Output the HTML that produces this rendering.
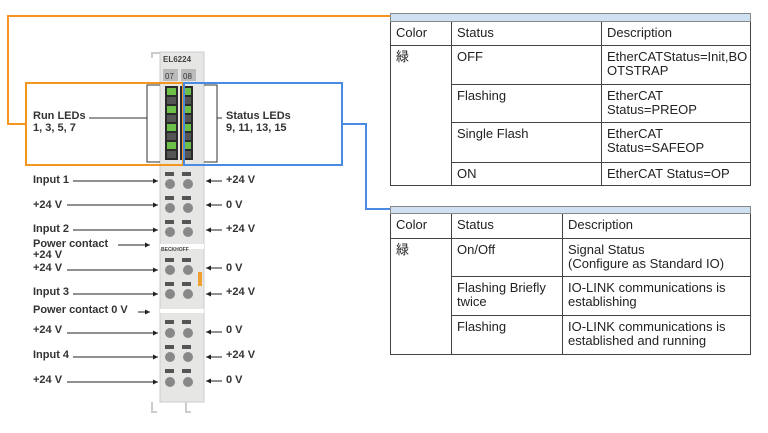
<!DOCTYPE html>
<html><head><meta charset="utf-8"><style>
body{margin:0;width:768px;height:433px;background:#fff;overflow:hidden;position:relative;font-family:"Liberation Sans","Noto Sans CJK JP",sans-serif}
table{position:absolute;border-collapse:collapse;font-size:13px;color:#222;table-layout:fixed}
td{border:1px solid #444;vertical-align:top;padding:4px 4px 2px 5px;line-height:14px;overflow:hidden;white-space:nowrap}
.band td{background:#cfe0f0;height:1px;padding:0;border-color:#888}
</style></head><body>
<svg width="768" height="433" style="position:absolute;left:0;top:0" font-family="Liberation Sans, sans-serif">
<defs><marker id="a" markerWidth="6" markerHeight="6" refX="5" refY="3" orient="auto"><path d="M0,0.5 L5,3 L0,5.5z" fill="#222"/></marker></defs>
<polyline points="390,16 8,16 8,124 26,124" fill="none" stroke="#f4951f" stroke-width="2"/>
<path d="M152,58 v-5 h50 v8" fill="none" stroke="#ccc" stroke-width="2"/>
<rect x="160" y="52" width="44" height="350" fill="#e6e6e4" stroke="#ccc"/>
<text x="163" y="62" font-size="8" font-weight="bold" fill="#444">EL6224</text>
<rect x="163" y="69" width="15" height="12" fill="#bbb"/><rect x="181" y="69" width="15" height="12" fill="#bbb"/>
<text x="165" y="79" font-size="8" fill="#333">07</text><text x="183" y="79" font-size="8" fill="#333">08</text>
<rect x="165" y="86" width="13" height="74" fill="#2a2a2a"/><rect x="180" y="86" width="13" height="74" fill="#2a2a2a"/>
<g fill="#6cc04a">
<rect x="167" y="88" width="9" height="7"/><rect x="167" y="106" width="9" height="7"/><rect x="167" y="124" width="9" height="7"/><rect x="167" y="142" width="9" height="7"/>
<rect x="182" y="88" width="9" height="7"/><rect x="182" y="106" width="9" height="7"/><rect x="182" y="124" width="9" height="7"/><rect x="182" y="142" width="9" height="7"/>
</g>
<g fill="#555">
<rect x="167" y="97" width="9" height="7"/><rect x="167" y="115" width="9" height="7"/><rect x="167" y="133" width="9" height="7"/><rect x="167" y="151" width="9" height="7"/>
<rect x="182" y="97" width="9" height="7"/><rect x="182" y="115" width="9" height="7"/><rect x="182" y="133" width="9" height="7"/><rect x="182" y="151" width="9" height="7"/>
</g>
<g fill="#555">
<rect x="165" y="172" width="9" height="4"/><rect x="182" y="172" width="9" height="4"/><circle cx="170" cy="184" r="5" fill="#888"/><circle cx="188" cy="184" r="5" fill="#888"/>
<rect x="165" y="196" width="9" height="4"/><rect x="182" y="196" width="9" height="4"/><circle cx="170" cy="208" r="5" fill="#888"/><circle cx="188" cy="208" r="5" fill="#888"/>
<rect x="165" y="220" width="9" height="4"/><rect x="182" y="220" width="9" height="4"/><circle cx="170" cy="232" r="5" fill="#888"/><circle cx="188" cy="232" r="5" fill="#888"/>
<rect x="165" y="258" width="9" height="4"/><rect x="182" y="258" width="9" height="4"/><circle cx="170" cy="270" r="5" fill="#888"/><circle cx="188" cy="270" r="5" fill="#888"/>
<rect x="165" y="282" width="9" height="4"/><rect x="182" y="282" width="9" height="4"/><circle cx="170" cy="294" r="5" fill="#888"/><circle cx="188" cy="294" r="5" fill="#888"/>
<rect x="165" y="320" width="9" height="4"/><rect x="182" y="320" width="9" height="4"/><circle cx="170" cy="333" r="5" fill="#888"/><circle cx="188" cy="333" r="5" fill="#888"/>
<rect x="165" y="345" width="9" height="4"/><rect x="182" y="345" width="9" height="4"/><circle cx="170" cy="357" r="5" fill="#888"/><circle cx="188" cy="357" r="5" fill="#888"/>
<rect x="165" y="369" width="9" height="4"/><rect x="182" y="369" width="9" height="4"/><circle cx="170" cy="382" r="5" fill="#888"/><circle cx="188" cy="382" r="5" fill="#888"/>
</g>
<rect x="160" y="244" width="44" height="5" fill="#fff"/><text x="161" y="251" font-size="5" font-weight="bold" fill="#444">BECKHOFF</text>
<rect x="160" y="309" width="44" height="4" fill="#fff"/>
<rect x="198" y="272" width="4" height="14" fill="#f0a030"/>
<path d="M152,402 v10 h5 M186,402 v10 h5" fill="none" stroke="#ccc" stroke-width="2"/>
<polyline points="160,85 147,85 147,162 160,162" fill="none" stroke="#333"/>
<polyline points="204,85 217,85 217,162 204,162" fill="none" stroke="#333"/>
<line x1="89" y1="118" x2="147" y2="118" stroke="#333"/><line x1="217" y1="118" x2="222" y2="118" stroke="#333"/>
<rect x="26" y="83" width="157" height="82" fill="none" stroke="#f4951f" stroke-width="2"/>
<rect x="184" y="83" width="158" height="82" fill="none" stroke="#4a8ae0" stroke-width="2"/>
<polyline points="342,124 366,124 366,209 390,209" fill="none" stroke="#4a8ae0" stroke-width="2"/>
<g font-size="11" font-weight="bold" fill="#333">
<text x="33" y="119">Run LEDs</text><text x="33" y="131">1, 3, 5, 7</text>
<text x="226" y="119">Status LEDs</text><text x="226" y="131">9, 11, 13, 15</text>
<text x="33" y="183">Input 1</text><text x="33" y="208">+24 V</text><text x="33" y="232">Input 2</text>
<text x="33" y="247">Power contact</text><text x="33" y="258">+24 V</text><text x="33" y="271">+24 V</text>
<text x="33" y="295">Input 3</text><text x="33" y="313">Power contact 0 V</text>
<text x="33" y="333">+24 V</text><text x="33" y="358">Input 4</text><text x="33" y="383">+24 V</text>
<text x="226" y="183">+24 V</text><text x="226" y="208">0 V</text><text x="226" y="232">+24 V</text>
<text x="226" y="271">0 V</text><text x="226" y="295">+24 V</text><text x="226" y="333">0 V</text>
<text x="226" y="358">+24 V</text><text x="226" y="383">0 V</text>
</g>
<g stroke="#222" marker-end="url(#a)">
<line x1="73" y1="181" x2="158" y2="181"/><line x1="67" y1="205" x2="158" y2="205"/><line x1="73" y1="230" x2="158" y2="230"/>
<line x1="118" y1="245" x2="150" y2="245"/><line x1="67" y1="270" x2="158" y2="270"/><line x1="73" y1="294" x2="158" y2="294"/>
<line x1="138" y1="312" x2="150" y2="312"/><line x1="67" y1="333" x2="158" y2="333"/><line x1="73" y1="357" x2="158" y2="357"/><line x1="67" y1="382" x2="158" y2="382"/>
<line x1="222" y1="181" x2="206" y2="181"/><line x1="222" y1="205" x2="206" y2="205"/><line x1="222" y1="230" x2="206" y2="230"/>
<line x1="222" y1="268" x2="206" y2="268"/><line x1="222" y1="294" x2="206" y2="294"/><line x1="222" y1="332" x2="206" y2="332"/>
<line x1="222" y1="357" x2="206" y2="357"/><line x1="222" y1="381" x2="206" y2="381"/>
</g>
</svg>
<table style="left:390px;top:13px;width:361px">
<colgroup><col style="width:61px"><col style="width:150px"><col></colgroup>
<tr class="band"><td colspan="3" style="height:7px"></td></tr>
<tr style="height:24px"><td>Color</td><td>Status</td><td>Description</td></tr>
<tr style="height:39px"><td rowspan="4">緑</td><td>OFF</td><td>EtherCATStatus=Init,BO<br>OTSTRAP</td></tr>
<tr style="height:38px"><td>Flashing</td><td>EtherCAT<br>Status=PREOP</td></tr>
<tr style="height:40px"><td>Single Flash</td><td>EtherCAT<br>Status=SAFEOP</td></tr>
<tr style="height:23px"><td>ON</td><td>EtherCAT Status=OP</td></tr>
</table>
<table style="left:390px;top:206px;width:361px">
<colgroup><col style="width:61px"><col style="width:111px"><col></colgroup>
<tr class="band"><td colspan="3" style="height:6px"></td></tr>
<tr style="height:25px"><td>Color</td><td>Status</td><td>Description</td></tr>
<tr style="height:38px"><td rowspan="3">緑</td><td>On/Off</td><td>Signal Status<br>(Configure as Standard IO)</td></tr>
<tr style="height:39px"><td>Flashing Briefly<br>twice</td><td>IO-LINK communications is<br>establishing</td></tr>
<tr style="height:39px"><td>Flashing</td><td>IO-LINK communications is<br>established and running</td></tr>
</table>
</body></html>
